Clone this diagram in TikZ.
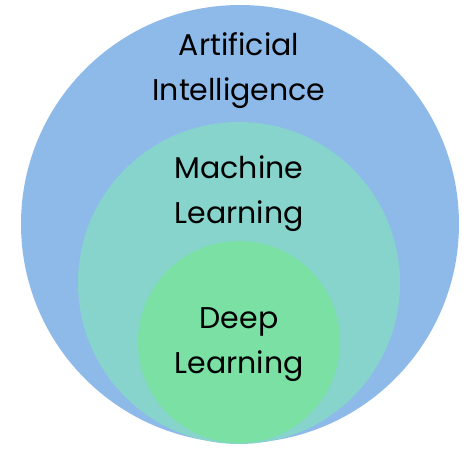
\documentclass[tikz,border=0pt]{standalone}
\usepackage{fontspec}
\setmainfont{Poppins}
\definecolor{aiblue}{RGB}{142,186,234}
\definecolor{mlteal}{RGB}{134,212,204}
\definecolor{dlgreen}{RGB}{122,224,164}
\tikzset{
  circ/.style={circle, inner sep=0pt, outer sep=0pt, draw=none},
  lbl/.style={anchor=base, inner sep=0pt, font=\fontsize{30}{36}\selectfont, text=black}
}
\begin{document}
\begin{tikzpicture}[x=1pt,y=-1pt]
\useasboundingbox[fill=white] (0,0) rectangle (474,452);
\node[circ, fill=aiblue, minimum size=438pt] (ai) at (240,224) {};
\node[circ, fill=mlteal, minimum size=322pt] (ml) at (239,283) {};
\node[circ, fill=dlgreen, minimum size=202pt] (dl) at (239,342) {};
\node[lbl] (ai1) at (239,56) {Artificial};
\node[lbl] (ai2) at (239,100) {Intelligence};
\node[lbl] (ml1) at (239,178) {Machine};
\node[lbl] (ml2) at (239,223) {Learning};
\node[lbl] (dl1) at (239,328) {Deep};
\node[lbl] (dl2) at (239,373) {Learning};
\end{tikzpicture}
\end{document}
